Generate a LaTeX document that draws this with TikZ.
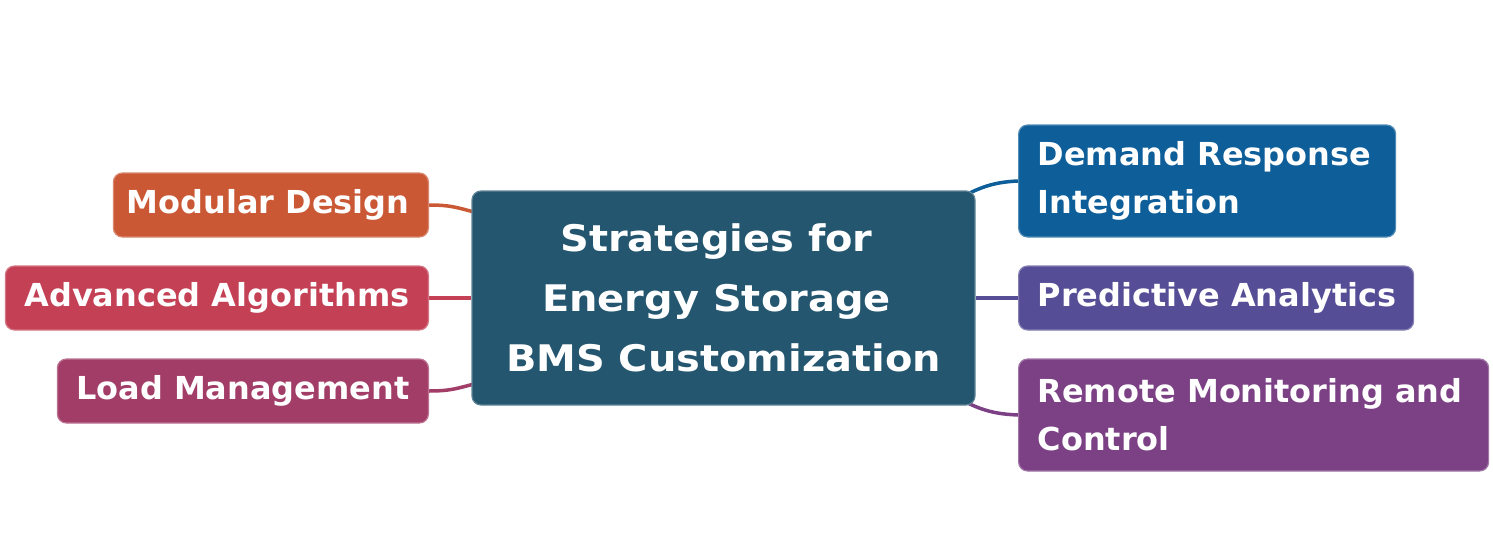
\documentclass[tikz,border=0pt]{standalone}
\usepackage{fontspec}
\setmainfont{DejaVu Sans}
\newfontfamily\cenF[FakeStretch=1.09]{DejaVu Sans}
\newfontfamily\sidF[FakeStretch=1.01]{DejaVu Sans}
\definecolor{cC}{HTML}{24566F}
\definecolor{cMD}{HTML}{CA5835}
\definecolor{cAA}{HTML}{C44155}
\definecolor{cLM}{HTML}{A23D68}
\definecolor{cDR}{HTML}{0D5E99}
\definecolor{cPA}{HTML}{554E96}
\definecolor{cRM}{HTML}{7C4185}
\pgfdeclarelayer{background}
\pgfsetlayers{background,main}
\newlength\wsA
\newlength\wsC
\begin{document}
\settowidth\wsA{\sidF\bfseries\fontsize{10}{12}\selectfont Advanced Algorithms}%
\settowidth\wsC{\cenF\bfseries\fontsize{10}{12}\selectfont BMS Customization}%
\pgfmathsetmacro\sfs{10*385/\wsA}%
\pgfmathsetmacro\cfs{10*435/\wsC}%
\def\sidefont{\sidF\bfseries\fontsize{\sfs}{48}\selectfont}%
\def\cenfont{\cenF\bfseries\fontsize{\cfs}{60}\selectfont}%
\begin{tikzpicture}[x=1pt,y=-1pt,
  box/.style={rounded corners=9pt, draw=#1!72!white, line width=1.2pt, fill=#1, text=white, inner xsep=19pt, inner ysep=0pt},
  side/.style={font=\sidefont},
  conn/.style={draw=#1, line width=3.5pt}]
\useasboundingbox (0,0) rectangle (1493,554);
% central
\node[box=cC, minimum width=503pt, minimum height=214pt, font=\cenfont, align=center] (c) at (723.5,298)
  {Strategies for\kern14pt\\Energy Storage\kern14pt\\BMS Customization};
% left
\node[box=cMD, side, anchor=east, minimum width=315pt, minimum height=64pt] (md) at (429,205) {\makebox[277pt][r]{Modular Design}};
\node[box=cAA, side, anchor=east, minimum width=423pt, minimum height=64pt] (aa) at (429,298) {\makebox[385pt][r]{Advanced Algorithms}};
\node[box=cLM, side, anchor=east, minimum width=371pt, minimum height=64pt] (lm) at (429,391) {\makebox[333pt][r]{Load Management}};
% right
\node[box=cDR, side, anchor=west, minimum width=377pt, minimum height=112pt, align=left] (dr) at (1018,181) {\makebox[339pt][l]{Demand Response}\\\makebox[339pt][l]{Integration}};
\node[box=cPA, side, anchor=west, minimum width=395pt, minimum height=64pt] (pa) at (1018,298) {\makebox[357pt][l]{Predictive Analytics}};
\node[box=cRM, side, anchor=west, minimum width=470pt, minimum height=112pt, align=left] (rm) at (1018,415) {\makebox[432pt][l]{Remote Monitoring and}\\\makebox[432pt][l]{Control}};
% junction points hidden under the central box
\coordinate (jMD) at (478,213);
\coordinate (jLM) at (478,383);
\coordinate (jDR) at (960,198);
\coordinate (jRM) at (960,399);
\begin{pgfonlayer}{background}
\fill[white] (0,0) rectangle (1493,554);
\draw[conn=cMD] (md.east) .. controls (452,205) and (458,208) .. (jMD);
\draw[conn=cAA] (aa.east) -- (c.west);
\draw[conn=cLM] (lm.east) .. controls (452,391) and (458,388) .. (jLM);
\draw[conn=cDR] (jDR) .. controls (982,186) and (996,182) .. (dr.west);
\draw[conn=cPA] (c.east) -- (pa.west);
\draw[conn=cRM] (jRM) .. controls (982,411) and (996,414) .. (rm.west);
\end{pgfonlayer}
\end{tikzpicture}
\end{document}
